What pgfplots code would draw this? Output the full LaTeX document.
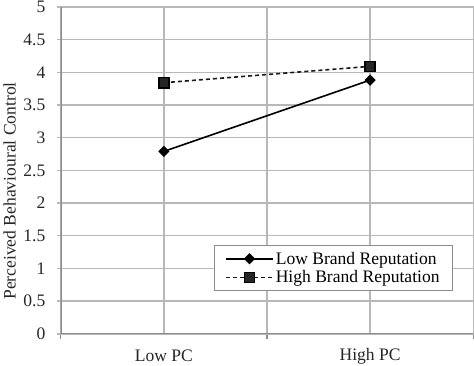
\documentclass[border=0pt]{standalone}
\usepackage{fontspec}
\setmainfont{Liberation Serif}
\usepackage{pgfplots}
\pgfplotsset{compat=1.18}
\definecolor{gridc}{HTML}{B8B8B8}
\definecolor{axc}{HTML}{8C8C8C}
\begin{document}
\begin{tikzpicture}
\begin{axis}[
  scale only axis,
  width=410bp, height=325bp,
  xmin=-0.5, xmax=1.5, ymin=0, ymax=5,
  xtick={0,1}, xticklabels={Low PC, High PC},
  minor xtick={-0.5,0.5,1.5},
  ytick={0,0.5,1,1.5,2,2.5,3,3.5,4,4.5,5},
  yticklabels={0,0.5,1,1.5,2,2.5,3,3.5,4,4.5,5},
  /pgf/number format/assume math mode=true,
  tick label style={font=\fontsize{17.5}{19}\selectfont, text=black!85, inner sep=1bp},
  xticklabel style={anchor=center, yshift=-18bp},
  yticklabel style={xshift=-10bp},
  xtick pos=bottom, ytick pos=left,
  axis line style={draw=gridc, line width=1.4bp},
  grid=none,
  tick align=outside,
  major tick length=4bp, minor tick length=5bp,
  major x tick style={draw=none},
  every tick/.style={draw=gridc, line width=1.4bp},
  minor x tick style={draw=axc, line width=1.2bp},
  ylabel={Perceived Behavioural Control},
  ylabel style={font=\fontsize{17.5}{19}\selectfont, text=black!85,
    at={(axis description cs:-0.124,0.437)}, anchor=center},
  legend style={at={(0.951,0.132)}, anchor=south east, draw=axc, line width=0.9bp,
    font=\fontsize{17.5}{19}\selectfont, inner xsep=11bp, inner ysep=4bp, row sep=1bp},
  legend cell align=left,
  legend image code/.code={
    \draw[#1] (0cm,0cm) -- (1.65cm,0cm);
    \draw[#1, solid] plot coordinates {(0.825cm,0cm)};
  },
]
\pgfplotsinvokeforeach{0.5,1,1.5,2,2.5,3,3.5,4,4.5,5}{
  \draw[gridc, line width=1.4bp] (axis cs:-0.5,#1) -- (axis cs:1.5,#1);
}
\pgfplotsinvokeforeach{0,0.5,1,1.5}{
  \draw[gridc, line width=1.4bp] (axis cs:#1,0) -- (axis cs:#1,5);
}
\draw[axc, line width=1.8bp] (rel axis cs:0,1) -- (rel axis cs:0,0) -- (rel axis cs:1,0);
\addplot[black, line width=1.6bp, mark=diamond*, mark size=4.5bp, mark options={solid, fill=black, xscale=1.3}]
  coordinates {(0,2.79) (1,3.88)};
\addlegendentry{Low Brand Reputation}
\addplot[black!90, line width=1.6bp, dash pattern=on 4bp off 3bp, mark=square*, mark size=5bp, mark options={solid, fill=black!85, draw=black}]
  coordinates {(0,3.84) (1,4.09)};
\addlegendentry{High Brand Reputation}
\end{axis}
\end{tikzpicture}
\end{document}
